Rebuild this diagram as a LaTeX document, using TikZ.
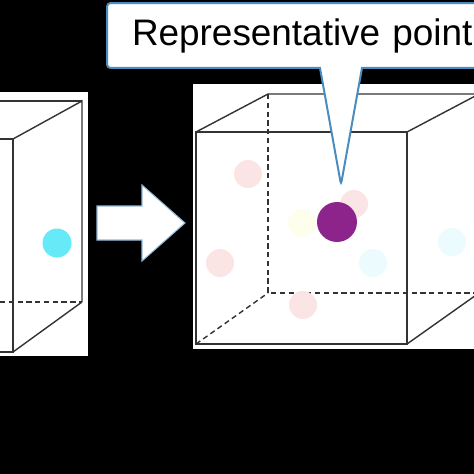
\documentclass[tikz,border=0pt]{standalone}
\usepackage{fontspec}
\newfontfamily\calloutfont{Liberation Sans}
\usepackage{tikz}
\usetikzlibrary{shapes.callouts, positioning}

\definecolor{callblue}{RGB}{74,140,190}
\definecolor{arrowrim}{RGB}{140,185,220}
\definecolor{repviolet}{RGB}{140,36,140}
\definecolor{paleRed}{RGB}{250,228,228}
\definecolor{paleYellow}{RGB}{254,254,236}
\definecolor{paleCyan}{RGB}{236,251,254}
\definecolor{vivCyan}{RGB}{102,234,247}

\begin{document}
\begin{tikzpicture}[x=0.02cm, y=-0.02cm,
    edge/.style={draw=black!80, line width=0.8pt},
    hidden/.style={edge, densely dashed},
    dot/.style={circle, inner sep=0pt, minimum size=0.56cm},
    bigdot/.style={circle, inner sep=0pt, minimum size=0.8cm, fill=repviolet}]

    \clip (0,0) rectangle (474,474);
    \fill[black] (0,0) rectangle (474,474);

    % === LEFT: input cube ===
    \fill[white] (0,92) rectangle (88,356);
    \draw[edge] (0,101) -- (82,101);
    \draw[edge] (0,139) -- (13,139) -- (13,352) -- (0,352);
    \draw[edge] (13,139) -- (82,101) -- (82,302);
    \draw[edge] (13,352) -- (82,302);
    \draw[hidden] (0,302) -- (82,302);
    \node[dot, fill=vivCyan, minimum size=0.58cm] (cy) at (57,243) {};

    % === MIDDLE: arrow ===
    \draw[fill=white, draw=arrowrim, line width=0.6pt]
      (97,206) -- (142,206) -- (142,185) -- (185,223) -- (142,261) -- (142,240) -- (97,240) -- cycle;

    % === RIGHT: output cube ===
    \fill[white] (193,84) rectangle (474,349);
    \draw[hidden] (268,94) -- (268,293) -- (479,293);
    \draw[hidden] (196,344) -- (268,293);
    \draw[edge] (196,132) rectangle (407,344);
    \draw[edge] (196,132) -- (268,94) -- (479,94);
    \draw[edge] (407,132) -- (479,94);
    \draw[edge] (407,344) -- (479,293);

    % faded points
    \node[dot, fill=paleRed]    (p1) at (248,174) {};
    \node[dot, fill=paleRed]    (p2) at (220,263) {};
    \node[dot, fill=paleRed]    (p3) at (303,305) {};
    \node[dot, fill=paleRed]    (p4) at (354,204) {};
    \node[dot, fill=paleYellow] (p5) at (302,223) {};
    \node[dot, fill=paleCyan]   (p6) at (373,263) {};
    \node[dot, fill=paleCyan]   (p7) at (452,242) {};

    % representative point
    \node[bigdot] (rep) at (337,222) {};

    % === TOP: callout ===
    \node[rectangle callout, fill=white, draw=callblue, line width=0.04cm,
          rounded corners=2pt, minimum width=9.36cm, minimum height=1.3cm,
          text width=8.36cm, inner xsep=0.5cm, align=left,
          callout pointer width=0.84cm,
          callout absolute pointer={([xshift=0.08cm, yshift=0.34cm]rep.north)},
          font=\calloutfont\fontsize{21}{25}\selectfont] (label) at (341,35.5)
      {Representative point};

\end{tikzpicture}
\end{document}
